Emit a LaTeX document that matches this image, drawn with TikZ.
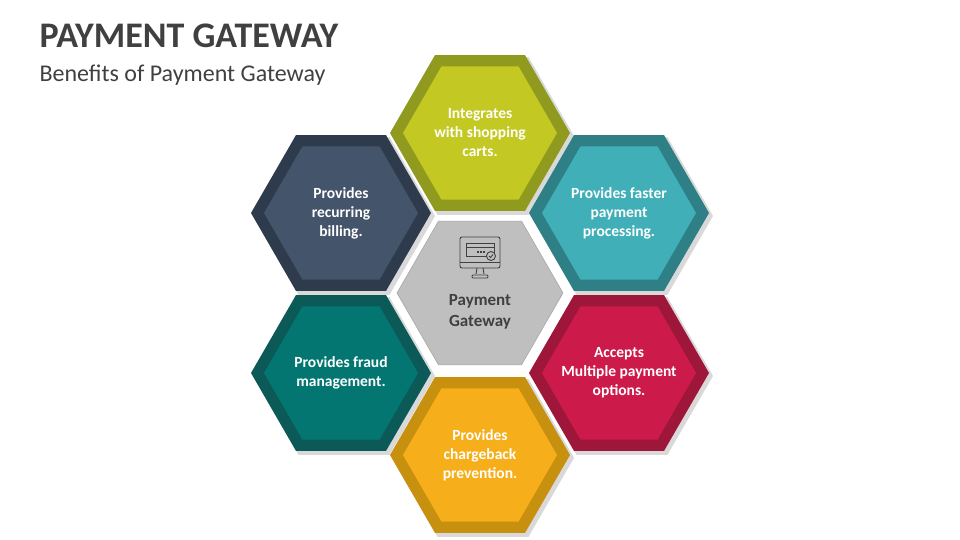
\documentclass[tikz,border=0pt]{standalone}
\usepackage{fontspec}
\setmainfont{Carlito}
\usetikzlibrary{shapes.geometric}
\definecolor{txt}{HTML}{404040}
\definecolor{lrO}{HTML}{9E1639}\definecolor{lrI}{HTML}{CC1B4B}
\definecolor{boO}{HTML}{C8900F}\definecolor{boI}{HTML}{F6AF1A}
\definecolor{llO}{HTML}{0B5A58}\definecolor{llI}{HTML}{037672}
\definecolor{ulO}{HTML}{2E3B4C}\definecolor{ulI}{HTML}{44546A}
\definecolor{tpO}{HTML}{8F9A1E}\definecolor{tpI}{HTML}{C3C922}
\definecolor{urO}{HTML}{2E7F86}\definecolor{urI}{HTML}{40AFB8}
\definecolor{cF}{HTML}{BFBFBF}\definecolor{cD}{HTML}{A6A6A6}
\tikzset{
 hexo/.style={regular polygon, regular polygon sides=6, minimum size=180pt, inner sep=0pt, draw=none},
 hexi/.style={regular polygon, regular polygon sides=6, minimum size=154pt, inner sep=0pt, draw=none},
 lbl/.style={text=white, font=\fontsize{15.5}{19}\selectfont\bfseries, align=center},
 shd/.style={regular polygon, regular polygon sides=6, minimum size=182pt, inner sep=0pt, fill=black, opacity=0.15}
}
\newcommand{\benhex}[6]{%
 \node[shd] at (#1+3,#2+3) {};
 \node[hexo, fill=#3] (#6o) at (#1,#2) {};
 \node[hexi, fill=#4] (#6) at (#1,#2) {};
 \node[lbl] (#6t) at (#1,#2) {#5};
}
\begin{document}
\begin{tikzpicture}[x=1pt,y=-1pt]
\useasboundingbox (0,0) rectangle (960,540);
\node[anchor=west, text=txt, font=\fontsize{36}{36}\selectfont\bfseries] (title) at (36,36) {PAYMENT GATEWAY};
\node[anchor=west, text=txt, font=\fontsize{24}{24}\selectfont] (sub) at (36,75) {Benefits of Payment Gateway};
\benhex{619}{373}{lrO}{lrI}{Accepts\\Multiple payment\\options.}{lr}
\benhex{480}{455}{boO}{boI}{Provides\\chargeback\\prevention.}{bo}
\benhex{341}{373}{llO}{llI}{Provides fraud\\management.}{ll}
\benhex{341}{213}{ulO}{ulI}{Provides\\recurring\\billing.}{ul}
\benhex{480}{133}{tpO}{tpI}{Integrates\\with shopping\\carts.}{tp}
\benhex{619}{213}{urO}{urI}{Provides faster\\payment\\processing.}{ur}
% center
\node[regular polygon, regular polygon sides=6, minimum size=166pt, inner sep=0pt, fill=cF, draw=cD, line width=0.6pt] (c) at (480,293) {};
\node[text=txt, font=\fontsize{17}{21}\selectfont\bfseries, align=center] (ct) at (480,312) {Payment\\Gateway};
% icon
\begin{scope}[draw=txt, line width=0.9pt]
\draw[rounded corners=2pt] (460,237) rectangle (500,268);
\draw (460,262) -- (500,262);
\draw (477,268) -- (476,274) (483,268) -- (484,274);
\draw[rounded corners=1pt] (472,275) rectangle (488,278);
\draw[fill=cF] (466,243) rectangle (494,256);
\draw (466,247) -- (494,247);
\draw[line width=1.2pt, dash pattern=on 1.5pt off 1.5pt] (477,252) -- (485,252);
\draw[fill=cF] (491,256) circle (4.5);
\draw (489,256) -- (490.5,257.5) -- (493,254.5);
\end{scope}
\end{tikzpicture}
\end{document}
